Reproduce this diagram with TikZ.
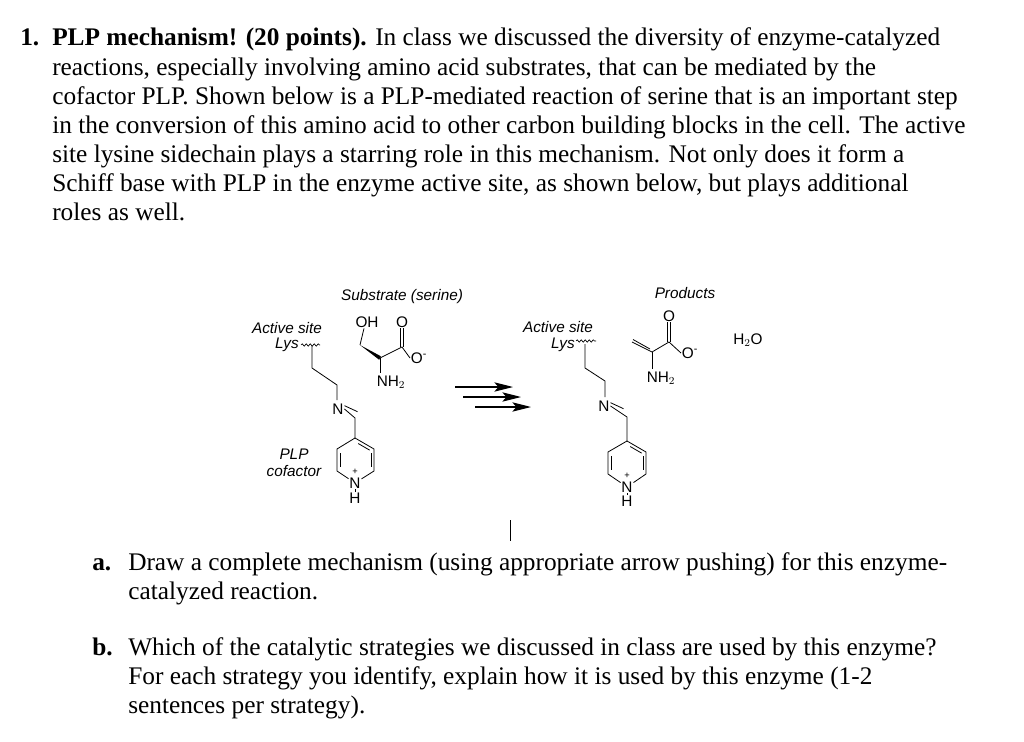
\documentclass[tikz,border=0pt]{standalone}
\usepackage{fontspec}
\setmainfont{Liberation Serif}
\setsansfont{Liberation Sans}
\usetikzlibrary{arrows.meta,decorations.pathmorphing,calc}
\begin{document}
\begin{tikzpicture}[x=0.75pt,y=-0.75pt,
  txt/.style={anchor=base west,inner sep=0,font=\fontsize{19}{22}\selectfont},
  chem/.style={inner sep=0.5pt,font=\sffamily\fontsize{11.5}{13}\selectfont},
  lab/.style={inner sep=0,font=\sffamily\itshape\fontsize{11.5}{12.5}\selectfont,align=center},
  pls/.style={inner sep=0,font=\sffamily\fontsize{7}{8}\selectfont},
  bond/.style={line width=0.6pt},
  wavy/.style={line width=0.5pt,decorate,decoration={snake,amplitude=0.9pt,segment length=3pt}},
  rx/.style={line width=0.8pt,-{Stealth[length=14pt,width=7pt,inset=3pt]}}]
\useasboundingbox (0,0) rectangle (1024,742);
% text
\node[txt] (n1) at (20,46) {\textbf{1.}};
\node[txt] (l1) at (52,46) {\textbf{PLP mechanism! (20 points).} In class we discussed the diversity of enzyme-catalyzed};
\node[txt] (l2) at (52,75) {reactions, especially involving amino acid substrates, that can be mediated by the};
\node[txt] (l3) at (52,104) {cofactor PLP. Shown below is a PLP-mediated reaction of serine that is an important step};
\node[txt] (l4) at (52,133) {in the conversion of this amino acid to other carbon building blocks in the cell. The active};
\node[txt] (l5) at (52,162) {site lysine sidechain plays a starring role in this mechanism. Not only does it form a};
\node[txt] (l6) at (52,191) {Schiff base with PLP in the enzyme active site, as shown below, but plays additional};
\node[txt] (l7) at (52,220) {roles as well.};
\node[txt] (qa) at (92,570) {\textbf{a.}};
\node[txt] (a1) at (128,570) {Draw a complete mechanism (using appropriate arrow pushing) for this enzyme-};
\node[txt] (a2) at (128,599) {catalyzed reaction.};
\node[txt] (qb) at (92,655) {\textbf{b.}};
\node[txt] (b1) at (128,655) {Which of the catalytic strategies we discussed in class are used by this enzyme?};
\node[txt] (b2) at (128,684) {For each strategy you identify, explain how it is used by this enzyme (1-2};
\node[txt] (b3) at (128,713) {sentences per strategy).};
\coordinate (cur1) at (510,520); \coordinate (cur2) at (510,541);
\draw[line width=0.6pt] (cur1) -- (cur2);
% ---- left molecule
\node[lab] (as1) at (287,328) {Active site};
\node[lab,anchor=east] (lys1) at (299,345) {Lys};
\coordinate (w1a) at (301,345); \coordinate (w1b) at (320,345);
\draw[wavy] (w1a) -- (w1b);
\coordinate (c1a) at (312,346); \coordinate (c1b) at (312,368);
\coordinate (c1c) at (337,385); \coordinate (c1d) at (337,400);
\node[chem] (N1) at (338,409) {N};
\coordinate (c1e) at (355,418); \coordinate (c1f) at (355,438);
\draw[bond] (c1a) -- (c1b) -- (c1c) -- (c1d);
\draw[bond] (N1.east) -- (c1e) -- (c1f);
\draw[bond] ([yshift=2.5pt]N1.east) -- ++(13,6);
\coordinate (r1a) at (337,449); \coordinate (r1b) at (337,471);
\coordinate (r1c) at (374,471); \coordinate (r1d) at (374,449);
\node[chem] (Np1) at (355,483) {N};
\node[pls] (pl1) at (355,472) {+};
\node[chem] (H1) at (355,498) {H};
\draw[bond] (c1f) -- (r1a) -- (r1b) -- (Np1) -- (r1c) -- (r1d) -- (c1f);
\draw[bond] ($(r1a)!0.2!(r1b)+(3,0)$) -- ($(r1a)!0.8!(r1b)+(3,0)$);
\draw[bond] ($(r1c)!0.2!(r1d)+(-3,0)$) -- ($(r1c)!0.8!(r1d)+(-3,0)$);
\draw[bond] ($(c1f)!0.25!(r1d)+(-1.5,2.8)$) -- ($(c1f)!0.85!(r1d)+(-1.5,2.8)$);
\draw[bond] (Np1) -- (H1);
\node[lab] (plp) at (294,463) {PLP\\cofactor};
% serine
\node[lab] (sub) at (402,297) {Substrate (serine)};
\node[chem] (OH) at (367,322) {OH};
\node[chem] (Oc1) at (402,322) {O};
\coordinate (s1) at (360,345); \coordinate (sa) at (380,358); \coordinate (sc) at (402,347);
\node[chem] (Om1) at (419,358) {O\textsuperscript{-}};
\node[chem] (NH21) at (391,382) {NH$_2$};
\draw[bond] ($(OH.south)+(-3,0)$) -- (s1);
\fill (s1) -- ($(sa)+(0.8,-1.8)$) -- ($(sa)+(-0.8,1.8)$) -- cycle;
\draw[bond] (sa) -- (sc) -- (Om1.west);
\draw[bond] ([xshift=-1.3]Oc1.south) -- ([xshift=-1.3]sc);
\draw[bond] ([xshift=1.3]Oc1.south) -- ([xshift=1.3]sc);
\draw[bond] (sa) -- (380,373);
% arrows
\coordinate (ar1) at (455,387); \coordinate (ar1e) at (513,387);
\coordinate (ar2) at (463,397); \coordinate (ar2e) at (521,397);
\coordinate (ar3) at (475,407); \coordinate (ar3e) at (531,407);
\draw[rx] (ar1) -- (ar1e); \draw[rx] (ar2) -- (ar2e); \draw[rx] (ar3) -- (ar3e);
% ---- right molecule
\node[lab] (as2) at (558,327) {Active site};
\node[lab,anchor=east] (lys2) at (575,345) {Lys};
\coordinate (w2a) at (576,341); \coordinate (w2b) at (596,341);
\draw[wavy] (w2a) -- (w2b);
\coordinate (c2a) at (585,344); \coordinate (c2b) at (585,368);
\coordinate (c2c) at (605,381); \coordinate (c2d) at (605,397);
\node[chem] (N2) at (604,406) {N};
\coordinate (c2e) at (627,417); \coordinate (c2f) at (627,441);
\draw[bond] (c2a) -- (c2b) -- (c2c) -- (c2d);
\draw[bond] (N2.east) -- (c2e) -- (c2f);
\draw[bond] ([yshift=2.5pt]N2.east) -- ++(13,6);
\coordinate (r2a) at (608,452); \coordinate (r2b) at (608,474);
\coordinate (r2c) at (646,474); \coordinate (r2d) at (646,452);
\node[chem] (Np2) at (627,487) {N};
\node[pls] (pl2) at (627,476) {+};
\node[chem] (H2) at (627,501) {H};
\draw[bond] (c2f) -- (r2a) -- (r2b) -- (Np2) -- (r2c) -- (r2d) -- (c2f);
\draw[bond] ($(r2a)!0.2!(r2b)+(3,0)$) -- ($(r2a)!0.8!(r2b)+(3,0)$);
\draw[bond] ($(r2c)!0.2!(r2d)+(-3,0)$) -- ($(r2c)!0.8!(r2d)+(-3,0)$);
\draw[bond] ($(c2f)!0.25!(r2d)+(-1.5,2.8)$) -- ($(c2f)!0.85!(r2d)+(-1.5,2.8)$);
\draw[bond] (Np2) -- (H2);
% products
\node[lab] (prod) at (685,293) {Products};
\node[chem] (Oc2) at (669,316) {O};
\coordinate (pc) at (669,342); \coordinate (pa) at (652,352); \coordinate (pm) at (632,342);
\node[chem] (Om2) at (690,353) {O\textsuperscript{-}};
\node[chem] (NH22) at (661,378) {NH$_2$};
\draw[bond] ([xshift=-1.3]Oc2.south) -- ([xshift=-1.3]pc);
\draw[bond] ([xshift=1.3]Oc2.south) -- ([xshift=1.3]pc);
\draw[bond] (pm) -- (pa) -- (pc) -- (Om2.west);
\draw[bond] ($(pm)+(1,-2.5)$) -- ($(pa)+(-2,-3)$);
\draw[bond] (pa) -- (652,369);
\node[chem] (h2o) at (748,340) {H$_2$O};
\end{tikzpicture}
\end{document}
